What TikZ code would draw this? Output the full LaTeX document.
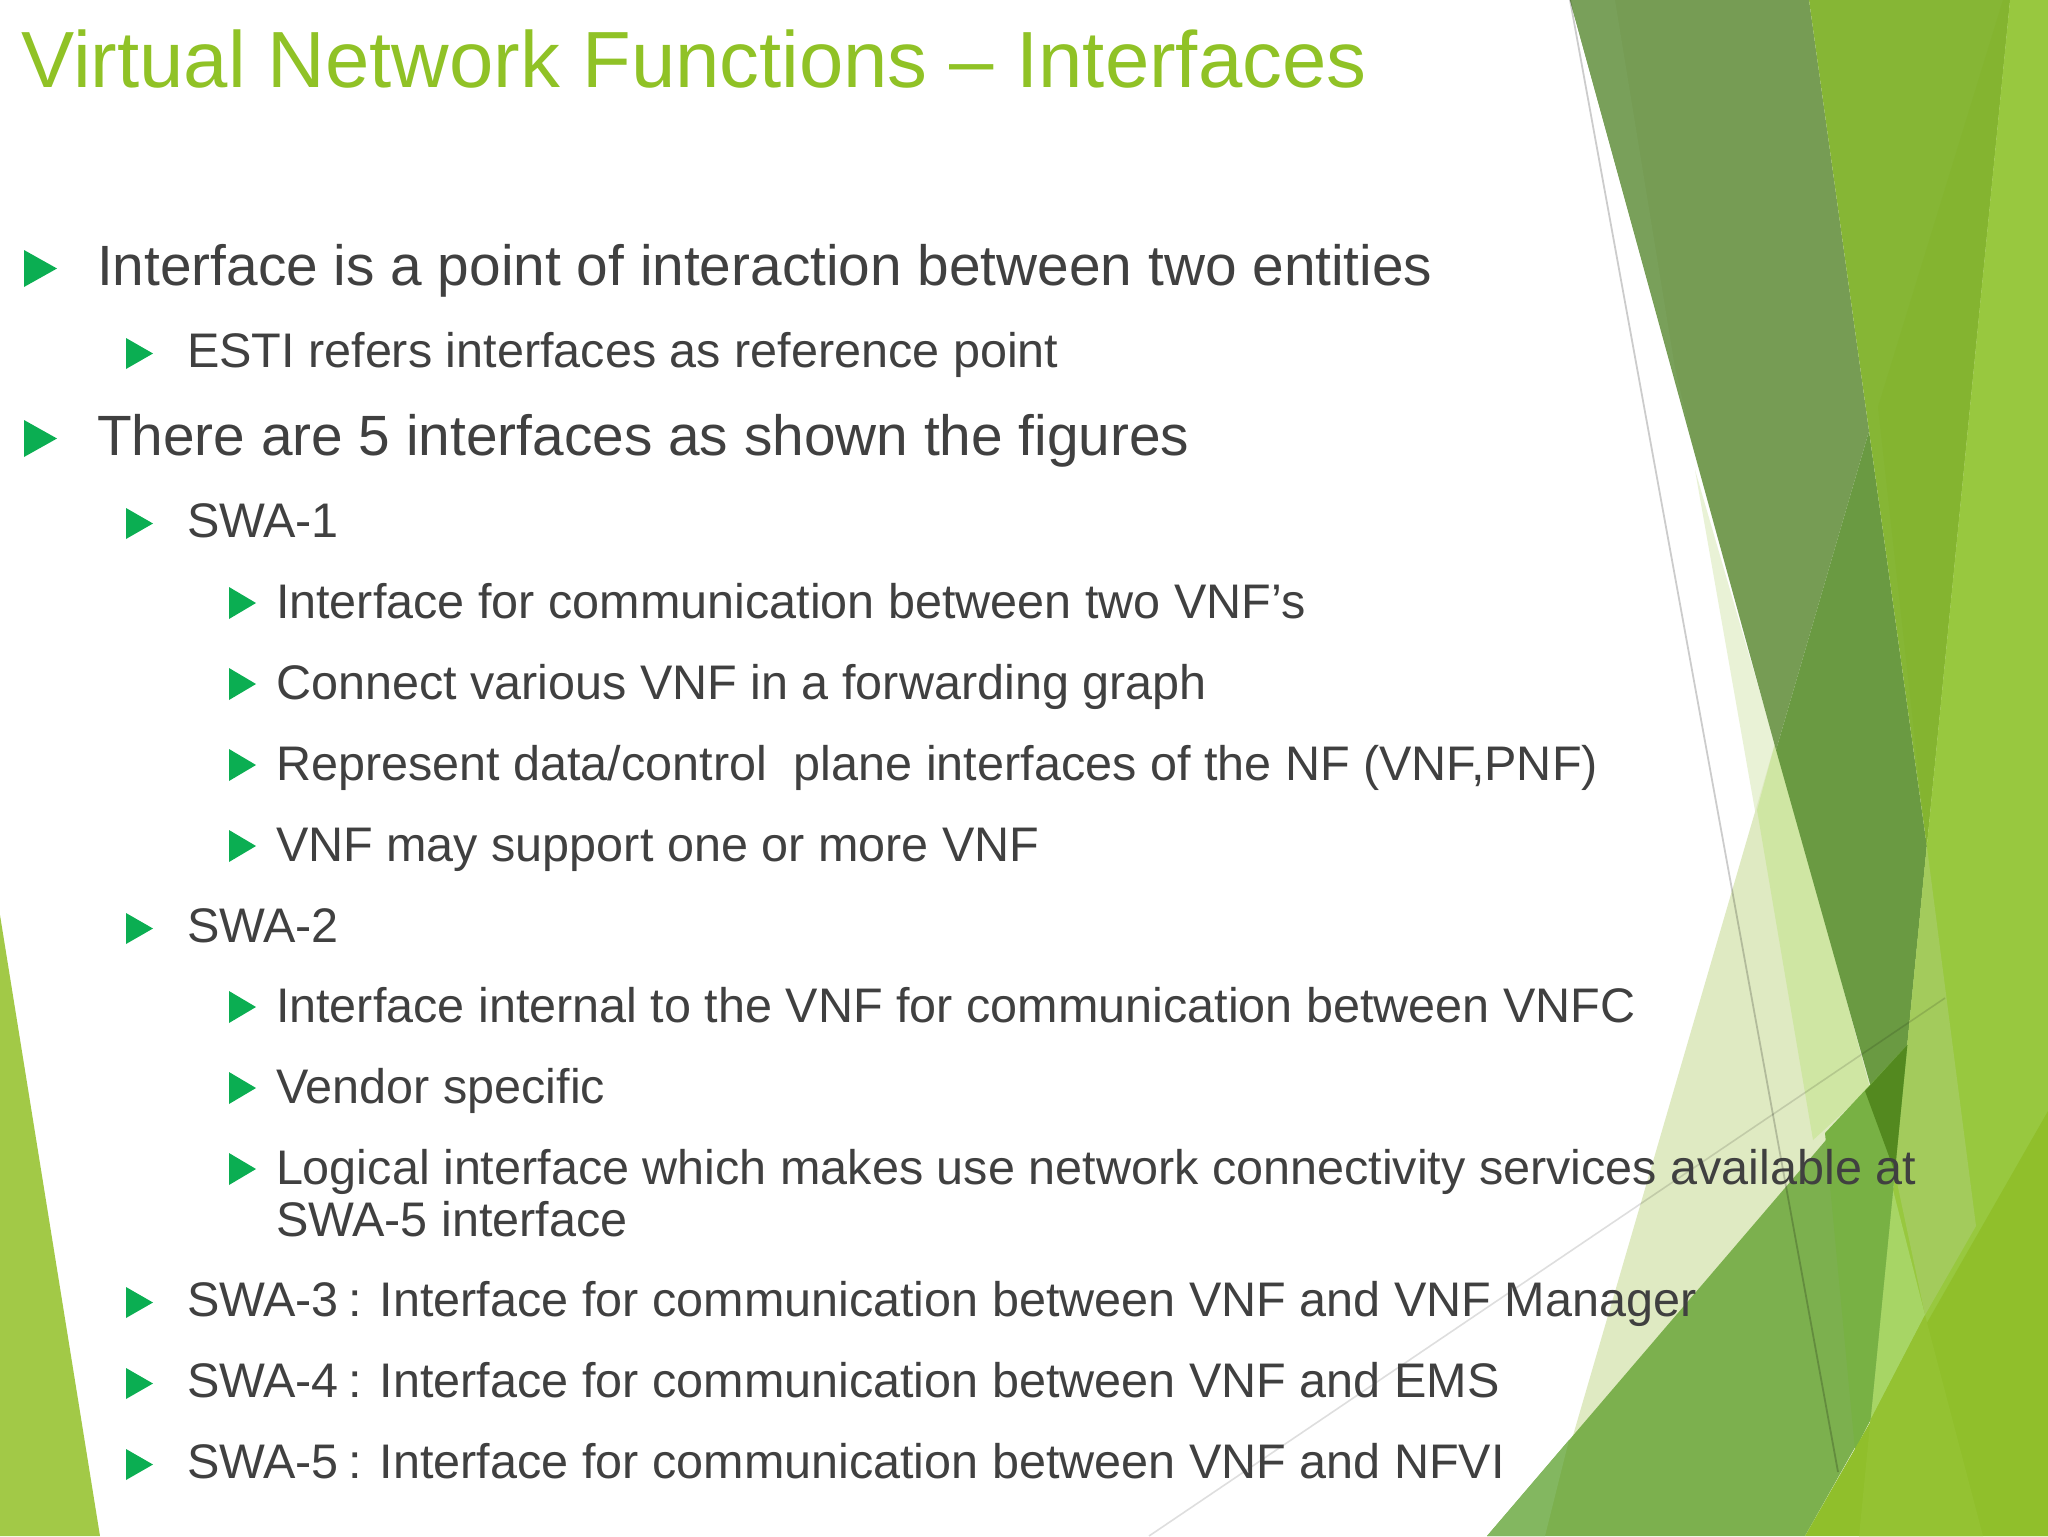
\documentclass[tikz,border=0pt]{standalone}
\usepackage{fontspec}
\setmainfont{Liberation Sans}
\definecolor{titlec}{HTML}{90C226}
\definecolor{bodyc}{HTML}{404040}
\definecolor{bul}{HTML}{0BAE52}
\definecolor{wedgeleft}{HTML}{A2C947}
\definecolor{colA}{HTML}{769C54}\definecolor{colB}{HTML}{79A05A}\definecolor{colC}{HTML}{6A9A42}
\definecolor{colD}{HTML}{86B635}\definecolor{colE}{HTML}{84B430}\definecolor{colF}{HTML}{98C83F}
\definecolor{colG}{HTML}{90BF2B}\definecolor{colH}{HTML}{A3CB5C}\definecolor{colI}{HTML}{A7D565}
\definecolor{colJ}{HTML}{E9F2D6}\definecolor{colK}{HTML}{DFEAC2}\definecolor{colL}{HTML}{CFE6A3}
\definecolor{colM}{HTML}{7CB04E}\definecolor{colN}{HTML}{78B144}\definecolor{colO}{HTML}{53891F}
\definecolor{colP}{HTML}{83B760}\definecolor{colQ}{HTML}{94C232}
\tikzset{
  bodytext/.style={anchor=base west,inner sep=0pt,outer sep=0pt,text=bodyc},
  lone/.style={bodytext,font=\fontsize{28.4}{28.4}\selectfont},
  ltwo/.style={bodytext,font=\fontsize{24.27}{24.27}\selectfont},
  bullet/.style={fill=bul,draw=none}
}
\newcommand{\LA}[3]{\node[lone] (#1) at (97,#2) {#3};
  \fill[bullet] (24,#2-35) -- (57,#2-16.5) -- (24,#2+2) -- cycle;}
\newcommand{\LB}[3]{\node[ltwo] (#1) at (187,#2) {#3};
  \fill[bullet] (126,#2-29) -- (153,#2-13.5) -- (126,#2+2) -- cycle;}
\newcommand{\LC}[3]{\node[ltwo] (#1) at (276,#2) {#3};
  \fill[bullet] (229,#2-31) -- (256,#2-15) -- (229,#2+1) -- cycle;}
\begin{document}
\begin{tikzpicture}[x=0.5pt,y=-0.5pt]
\useasboundingbox (0,0) rectangle (2048,1536);
\fill[white] (0,0) rectangle (2048,1536);
% left wedge
\fill[wedgeleft] (0,915) -- (100,1536) -- (0,1536) -- cycle;
% pale band and triangle
\fill[colJ] (1695,470) -- (1900,1172) -- (1813,1140) -- cycle;
\fill[colK] (1776,740) -- (1870,1088) -- (1560,1480) -- cycle;
\fill[colL] (1757,810) -- (1776,740) -- (1870,1088) -- (1813,1140) -- cycle;
% dark wedge
\fill[colA] (1570,0) -- (1809,0) -- (1869,431) -- (1776,750) -- cycle;
\fill[colB] (1570,0) -- (1615,0) -- (1675,368) -- (1692,441) -- cycle;
\fill[colC] (1869,431) -- (1926.8,846) -- (1894.8,1172) -- (1776,750) -- cycle;
% lime wedge
\fill[colD] (1809,0) -- (2010,0) -- (1926.8,846) -- cycle;
\fill[colE] (2003,0) -- (1878,407) -- (1926.8,846) -- (2010,0) -- cycle;
% right light band
\fill[colF] (2010,0) -- (2048,0) -- (2048,1536) -- (1859,1536) -- cycle;
\fill[colH] (1926.8,846) -- (1976,1226) -- (1925,1315) -- (1894.8,1172) -- cycle;
\fill[colI] (1893,1190) -- (1925,1315) -- (1870.4,1420) -- cycle;
% big green triangle
\fill[colM] (1487,1536) -- (1907.3,1045) -- (1870.4,1420) -- (1805,1536) -- cycle;
\fill[colN] (1825,1133) -- (1907.3,1045) -- (1870.4,1420) -- (1855,1450) -- cycle;
\fill[colP] (1487,1536) -- (1569,1440) -- (1545,1536) -- cycle;
\fill[colO] (1865,1091) -- (1907.3,1045) -- (1894.8,1172) -- cycle;
% lower right corner
\fill[colG] (1805,1536) -- (2048,1111) -- (2048,1536) -- cycle;
\fill[colQ] (1859,1536) -- (1870.4,1420) -- (1925,1315) -- (1983,1536) -- cycle;
% thin lines
\draw[black,opacity=.2,line width=.9pt] (1570,0) -- (1838,1472);
\draw[black,opacity=.13,line width=.8pt] (1149,1536) -- (1945,998);
% text
\node[anchor=base west,inner sep=0pt,text=titlec,font=\fontsize{39.85}{39.85}\selectfont] (title) at (21,88) {Virtual Network Functions – Interfaces};
\LA{a}{285}{Interface is a point of interaction between two entities}
\LB{b}{367}{ESTI refers interfaces as reference point}
\LA{c}{455}{There are 5 interfaces as shown the figures}
\LB{d}{537}{SWA-1}
\LC{e}{618}{Interface for communication between two VNF’s}
\LC{f}{699}{Connect various VNF in a forwarding graph}
\LC{g}{780}{Represent data/control\ \ plane interfaces of the NF (VNF,PNF)}
\LC{h}{861}{VNF may support one or more VNF}
\LB{i}{942}{SWA-2}
\LC{j}{1022}{Interface internal to the VNF for communication between VNFC}
\LC{k}{1103}{Vendor specific}
\LC{l}{1184}{Logical interface which makes use network connectivity services available at}
\node[ltwo] (l2) at (276,1236) {SWA-5 interface};
\LB{m}{1316}{SWA-3\kern-2pt\ : Interface for communication between VNF and VNF Manager}
\LB{n}{1397}{SWA-4\kern-2pt\ : Interface for communication between VNF and EMS}
\LB{o}{1478}{SWA-5\kern-2pt\ : Interface for communication between VNF and NFVI}
\end{tikzpicture}
\end{document}
